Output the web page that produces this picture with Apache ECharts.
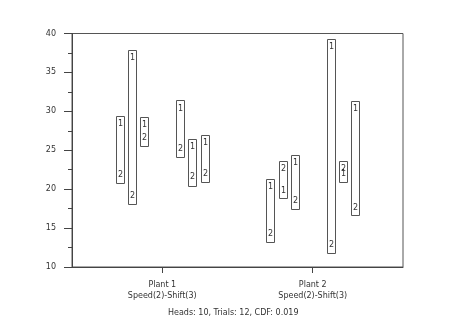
<!DOCTYPE html>
<html><head><meta charset="utf-8">
<script src="https://cdn.jsdelivr.net/npm/echarts@6/dist/echarts.min.js"></script>
<style>html,body{margin:0;padding:0;background:#fff}#c{width:474px;height:335px}</style>
</head><body><div id="c"></div>
<script>
// Plants (category groups) and their sub-label
const plants = ['Plant 1', 'Plant 2'];
const subLabel = 'Speed(2)-Shift(3)';
// Each bar: plant index, speed index (0/1), shift index (0..2)
const plantIdx = [0,0,0,0,0,0, 1,1,1,1,1,1];
const speedIdx = [0,0,0,1,1,1, 0,0,0,1,1,1];
const shiftIdx = [0,1,2,0,1,2, 0,1,2,0,1,2];
// Values of trial 1 and trial 2 for each bar
const trial1 = [29.4, 37.9, 29.3, 31.4, 26.5, 27.0, 21.3, 18.8, 24.4, 39.3, 20.9, 31.3];
const trial2 = [20.8, 18.1, 25.6, 24.1, 20.5, 20.9, 13.2, 23.6, 17.5, 11.8, 23.6, 16.6];
const yTicks = [10, 15, 20, 25, 30, 35, 40];
const footer = 'Heads: 10, Trials: 12, CDF: 0.019';

const FONT = 'DejaVu Sans';
const data = trial1.map((v, i) => [
  plantIdx[i] + 1 + (speedIdx[i] - 0.5) * 0.4 + (shiftIdx[i] - 1) * 0.081,
  v, trial2[i]
]);

const chart = echarts.init(document.getElementById('c'), null, {renderer: 'canvas'});
chart.setOption({
  animation: false,
  graphic: [{
    type: 'text', left: 168, top: 309,
    style: {text: footer, font: '8px "DejaVu Sans"', fill: '#333'}
  }],
  grid: {left: 72, right: 71, top: 33.5, bottom: 68, show: true, borderColor: '#555', borderWidth: 1, backgroundColor: 'transparent'},
  xAxis: {
    type: 'value', min: 0.4, max: 2.6,
    splitLine: {show: false},
    axisLine: {show: true, lineStyle: {color: '#444'}},
    axisTick: {show: true, length: 6, customValues: [1, 2], lineStyle: {color: '#444'}},
    axisLabel: {
      customValues: [1, 2], margin: 12, fontFamily: FONT, fontSize: 8, color: '#333', lineHeight: 11,
      formatter: v => plants[Math.round(v) - 1] + '\n' + subLabel
    }
  },
  yAxis: {
    type: 'value', min: yTicks[0], max: yTicks[yTicks.length - 1], interval: 5,
    splitLine: {show: false},
    axisLine: {show: true, lineStyle: {color: '#444'}},
    axisTick: {show: true, length: 8, lineStyle: {color: '#444'}},
    minorTick: {show: true, splitNumber: 2, length: 4, lineStyle: {color: '#444'}},
    axisLabel: {margin: 16, fontFamily: FONT, fontSize: 8, color: '#333'}
  },
  series: [{
    type: 'custom',
    data: data,
    renderItem: function (params, api) {
      const x = api.value(0), a = api.value(1), b = api.value(2);
      const pTop = api.coord([x, Math.max(a, b)]);
      const pBot = api.coord([x, Math.min(a, b)]);
      const w = 8;
      const cx = Math.round(pTop[0]) + 0.5;
      const topLbl = a >= b ? '1' : '2';
      const botLbl = a >= b ? '2' : '1';
      return {
        type: 'group',
        children: [
          {type: 'rect', shape: {x: cx - w / 2, y: Math.round(pTop[1]) + 0.5, width: w, height: Math.round(pBot[1] - pTop[1])},
           style: {fill: '#fff', stroke: '#555', lineWidth: 1}},
          {type: 'text', style: {text: topLbl, x: cx, y: pTop[1] + 8, align: 'center', verticalAlign: 'middle',
            font: '8px "DejaVu Sans"', fill: '#333'}},
          {type: 'text', style: {text: botLbl, x: cx, y: pBot[1] - 8, align: 'center', verticalAlign: 'middle',
            font: '8px "DejaVu Sans"', fill: '#333'}}
        ]
      };
    }
  }]
});
</script></body></html>
